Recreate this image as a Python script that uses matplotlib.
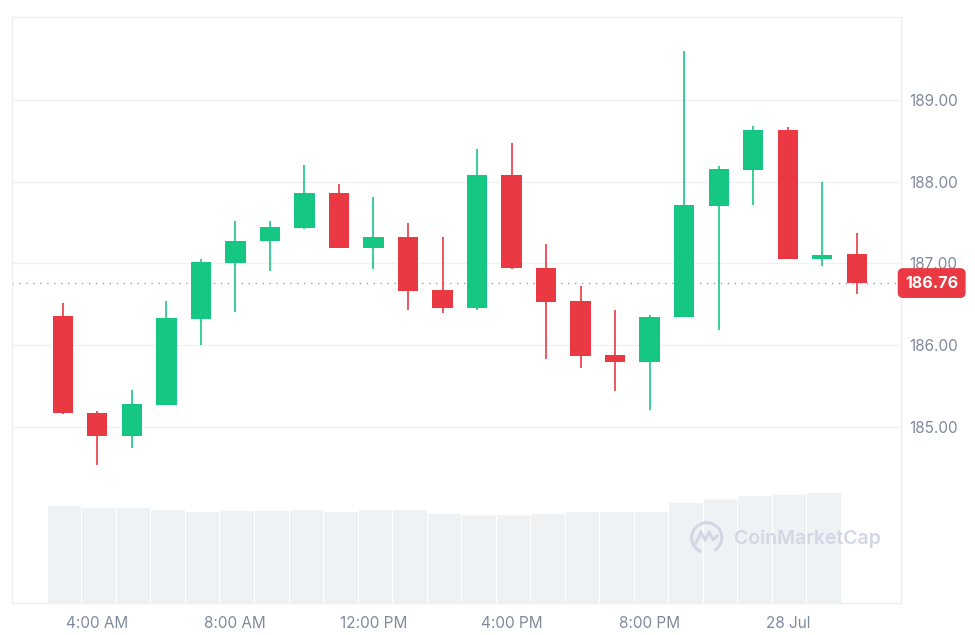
import matplotlib
matplotlib.use("Agg")
import matplotlib.pyplot as plt
import matplotlib.transforms as mtransforms
from matplotlib.patches import Arc
import numpy as np

plt.rcParams['font.family'] = ['Inter', 'DejaVu Sans']

# hourly candles, 3:00 AM 27 Jul -> 2:00 AM 28 Jul
opens = [186.36, 185.17, 184.89, 185.27, 186.32, 187.01, 187.28, 187.44,
         187.86, 187.19, 187.33, 186.67, 186.45, 188.08, 186.95, 186.54,
         185.88, 185.79, 186.35, 187.70, 188.15, 188.64, 187.06, 187.12]
highs = [186.51, 185.19, 185.45, 186.54, 187.06, 187.52, 187.52, 188.21,
         187.97, 187.81, 187.50, 187.33, 188.40, 188.48, 187.24, 186.72,
         186.43, 186.37, 189.60, 188.19, 188.68, 188.67, 188.00, 187.37]
lows = [185.16, 184.53, 184.74, 185.27, 186.00, 186.41, 186.91, 187.42,
        187.19, 186.93, 186.43, 186.39, 186.43, 186.93, 185.83, 185.72,
        185.44, 185.21, 186.35, 186.18, 187.72, 187.06, 186.97, 186.62]
closes = [185.17, 184.89, 185.28, 186.33, 187.02, 187.28, 187.45, 187.86,
          187.19, 187.33, 186.66, 186.45, 188.08, 186.94, 186.53, 185.87,
          185.79, 186.35, 187.72, 188.16, 188.64, 187.06, 187.10, 186.76]
# volume (relative units), one bar per hour up to midnight-hour
volumes = [98.3, 96.0, 96.0, 94.0, 92.0, 93.0, 93.0, 94.0, 92.0, 94.0, 94.0,
           90.3, 89.0, 89.0, 90.3, 92.0, 92.0, 92.0, 101.3, 105.0, 108.0,
           109.3, 110.7]
tick_idx = [1, 5, 9, 13, 17, 21]
tick_labels = ['4:00 AM', '8:00 AM', '12:00 PM', '4:00 PM', '8:00 PM', '28 Jul']
price_ticks = [185, 186, 187, 188, 189]
last_price = 186.76

green = '#16c784'
red = '#ea3943'
label_col = '#808a9d'
grid_col = '#eff1f4'

fig = plt.figure(figsize=(9.75, 6.35), dpi=100)
rect = [12 / 975, 32 / 635, 889 / 975, 586 / 635]

# volume underneath
axv = fig.add_axes(rect)
x_vol = np.arange(len(volumes))
axv.bar(x_vol + 0.04, volumes, width=1.0, color='#eff2f5',
        edgecolor='white', linewidth=0.8)
axv.set_xlim(-1.47, 24.28)
axv.set_ylim(0, max(volumes) * 5.3)
axv.axis('off')

ax = fig.add_axes(rect)
ax.patch.set_visible(False)
x = np.arange(len(opens))
o = np.array(opens)
c = np.array(closes)
cols = [green if cc >= oo else red for oo, cc in zip(o, c)]
ax.vlines(x, lows, highs, colors=cols, linewidth=1.2, zorder=3)
ax.bar(x, np.maximum(np.abs(c - o), 0.03), bottom=np.minimum(o, c),
       width=0.59, color=cols, edgecolor='none', zorder=4)

ax.set_xlim(-1.47, 24.28)
ax.set_ylim(182.84, 190.02)

for p in price_ticks:
    ax.axhline(p, color=grid_col, linewidth=1, zorder=1)
ax.axhline(last_price, color='#9aa0aa', linewidth=1, linestyle=(0, (1, 4)), zorder=2)

ax.yaxis.tick_right()
ax.set_yticks(price_ticks)
ax.set_yticklabels([f'{p:.2f}' for p in price_ticks])
ax.set_xticks(tick_idx)
ax.set_xticklabels(tick_labels)
ax.tick_params(axis='both', length=0, colors=label_col, labelsize=11)
ax.tick_params(axis='y', pad=6)
ax.tick_params(axis='x', pad=9)

for s in ax.spines.values():
    s.set_color('#eceef2')
    s.set_linewidth(1)

# last price tag
trans = mtransforms.blended_transform_factory(ax.transAxes, ax.transData)
ax.text(1.0345, last_price, f'{last_price:.2f}', transform=trans, ha='center',
        va='center', color='white', fontsize=11.5, fontweight='bold',
        bbox=dict(boxstyle='round,pad=0.42,rounding_size=0.3', fc=red, ec=red),
        zorder=10)

# watermark
wm = '#d3d6e4'
fig.patches.append(Arc((7.067, 0.973), 0.30, 0.30, theta1=-60, theta2=250,
                       transform=fig.dpi_scale_trans, color=wm, linewidth=2.2))
fig.lines.append(plt.Line2D([6.96, 7.01, 7.05, 7.09, 7.13, 7.17],
                            [0.92, 1.03, 0.95, 1.03, 0.95, 0.99],
                            transform=fig.dpi_scale_trans, color=wm, linewidth=2.2))
fig.text(7.34 / 9.75, 0.96 / 6.35, 'CoinMarketCap', color=wm, fontsize=14,
         fontweight='semibold', ha='left', va='center')

fig.savefig('out.png', dpi=100, facecolor='white')
